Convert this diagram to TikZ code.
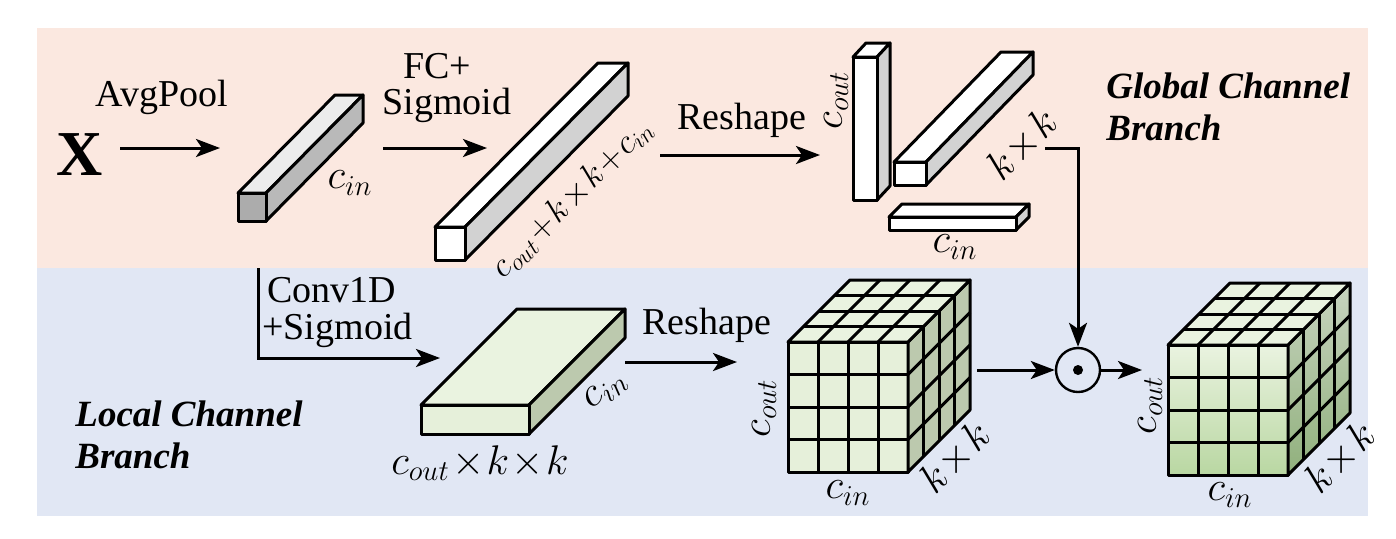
\documentclass[tikz,border=0pt]{standalone}
\usepackage{fontspec}
\setmainfont{Liberation Serif}
\usetikzlibrary{arrows.meta}
\definecolor{pinkbg}{HTML}{FBE8E0}
\definecolor{bluebg}{HTML}{E1E7F4}
\definecolor{lg}{HTML}{E6F0DA}
\definecolor{lgs}{HTML}{BCC9AE}
\definecolor{g1}{HTML}{EAF3E0}
\definecolor{g2}{HTML}{B9D7A2}
\definecolor{gs1}{HTML}{C8D4C0}
\definecolor{gs2}{HTML}{90B07C}
\newcommand\cub[9]{%
  \path[box,fill=#8] (#1,#2) -- ++(#5,#6) -- ++(#3,0) -- ++(-#5,-#6) -- cycle;
  \path[box,fill=#9] (#1+#3,#2) -- ++(#5,#6) -- ++(0,#4) -- ++(-#5,-#6) -- cycle;
  \path[box,fill=#7] (#1,#2) rectangle ++(#3,#4);}
\newcommand\gcube[4]{% x y frontstyle sidestyle
  \path[box,#3] (#1,#2) rectangle ++(120,130);
  \path[box,#4] (#1+120,#2) -- ++(62,-62) -- ++(0,130) -- ++(-62,62) -- cycle;
  \path[box,fill=g1] (#1,#2) -- ++(62,-62) -- ++(120,0) -- ++(-62,62) -- cycle;
  \foreach \i in {1,2,3}{
    \draw[box] (#1+30*\i,#2) -- ++(0,130);
    \draw[box] (#1,#2+32.5*\i) -- ++(120,0);
    \draw[box] (#1+30*\i,#2) -- ++(62,-62);
    \draw[box] (#1+15.5*\i,#2-15.5*\i) -- ++(120,0);
    \draw[box] (#1+120+15.5*\i,#2-15.5*\i) -- ++(0,130);
    \draw[box] (#1+120,#2+32.5*\i) -- ++(62,-62);}}
\begin{document}
\begin{tikzpicture}[x=0.5pt,y=-0.5pt,
  box/.style={draw=black,line width=1.5pt,line join=round},
  arr/.style={line width=1.5pt,-{Stealth[length=12pt,width=9pt,inset=3pt]}},
  lbl/.style={font=\fontsize{19}{22}\selectfont,inner sep=0pt},
  mth/.style={font=\fontsize{21}{24}\selectfont,inner sep=0pt},
  br/.style={font=\fontsize{18.5}{21}\selectfont\bfseries\itshape,align=left,inner sep=0pt}]
\useasboundingbox (0,0) rectangle (1396,538);
\fill[pinkbg] (37,28) rectangle (1368,268);
\fill[bluebg] (37,268) rectangle (1368,516);
% X and avgpool
\node[inner sep=0pt,font=\fontsize{32}{34}\selectfont\bfseries] (X) at (80,155) {X};
\coordinate (a1s) at (120,148); \coordinate (a1e) at (220,148);
\draw[arr] (a1s) -- (a1e);
\node[lbl] (avg) at (162,97) {AvgPool};
% small bar
\cub{238}{193}{28}{28}{97}{-98}{gray!65}{gray!15}{gray!55}
\node[mth] (cin1) at (350,183) {$c_{in}$};
% FC
\draw[arr] (383,148) coordinate (a2s) -- (487,148) coordinate (a2e);
\node[lbl] (fc) at (437,66) {FC+};
\node[lbl] (sig) at (447,105) {Sigmoid};
% long bar
\cub{435}{227}{30}{33}{163}{-164}{white}{white}{gray!35}
\node[font=\fontsize{17}{20}\selectfont,inner sep=0pt,rotate=45] (long) at (572,198) {$c_{out}\!+\!k\!\times\! k\!+\!c_{in}$};
% reshape
\draw[arr] (660,155) coordinate (a3s) -- (820,155) coordinate (a3e);
\node[lbl] (resh1) at (742,120) {Reshape};
% three bars
\cub{853}{57}{24}{143}{13}{-14}{white}{white}{gray!35}
\node[mth,rotate=90] (cout1) at (836,100) {$c_{out}$};
\cub{894}{162}{32}{23}{107}{-110}{white}{white}{gray!35}
\cub{889}{217}{127}{13}{13}{-13}{white}{white}{gray!35}
\node[mth] (cin2) at (955,247) {$c_{in}$};
\node[mth,rotate=45] (kk1) at (1022,145) {$k\!\times\! k$};
\node[br,anchor=north west] (gcb) at (1106,72) {Global Channel\\Branch};
% odot
\node[circle,draw,line width=1.2pt,inner sep=0pt,minimum size=22pt] (od) at (1078,370) {};
\fill (od) circle (2.5pt);
\coordinate (g1s) at (1045,148);
\draw[line width=1.5pt,-{Stealth[length=12pt,width=9pt,inset=3pt]}] (g1s) -| (od.north);
% local branch
\coordinate (l0) at (258,268);
\draw[line width=1.5pt,-{Stealth[length=12pt,width=9pt,inset=3pt]}] (l0) |- (440,358) coordinate (l1);
\node[lbl,anchor=west] (conv) at (267,290) {Conv1D};
\node[lbl,anchor=west] (sig2) at (262,330) {+Sigmoid};
\node[br,anchor=north west] (lcb) at (75,400) {Local Channel\\Branch};
% slab
\cub{421}{405}{108}{29}{96}{-96}{lg}{g1}{lgs}
\node[mth,rotate=38] (cin3) at (606,391) {$c_{in}$};
\node[mth] (coutkk) at (480,463) {$c_{out}\!\times\! k\!\times\! k$};
\draw[arr] (625,362) coordinate (a4s) -- (737,362) coordinate (a4e);
\node[lbl] (resh2) at (707,325) {Reshape};
% cube1
\gcube{788}{342}{fill=lg}{fill=lgs}
\node[mth,rotate=90] (cout2) at (764,408) {$c_{out}$};
\node[mth] (cin4) at (848,493) {$c_{in}$};
\node[mth,rotate=45] (kk2) at (955,458) {$k\!\times\! k$};
\draw[arr] (977,370) coordinate (a5s) -- (od.west);
\draw[arr] (od.east) -- (1142,370) coordinate (a6e);
% cube2
\gcube{1168}{345}{top color=g1,bottom color=g2}{top color=gs1,bottom color=gs2}
\node[mth,rotate=90] (cout3) at (1150,405) {$c_{out}$};
\node[mth] (cin5) at (1230,495) {$c_{in}$};
\node[mth,rotate=45] (kk3) at (1340,458) {$k\!\times\! k$};
\end{tikzpicture}
\end{document}
